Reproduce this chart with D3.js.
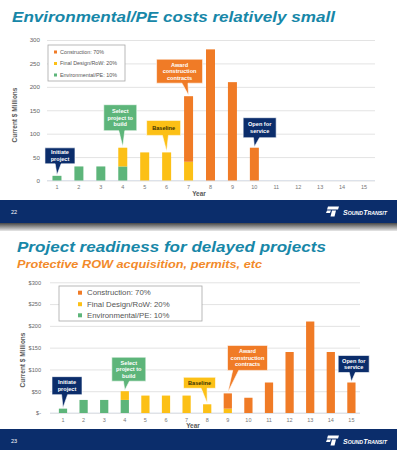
<!DOCTYPE html>
<html>
<head>
<meta charset="utf-8">
<script src="https://cdn.jsdelivr.net/npm/d3@7"></script>
<style>
  body { margin: 0; background: #fff; }
  svg { display: block; font-family: "Liberation Sans", Arial, sans-serif; }
</style>
</head>
<body>
<svg id="page" width="397" height="450"></svg>
<script>
// ---- data ----
var years = [1, 2, 3, 4, 5, 6, 7, 8, 9, 10, 11, 12, 13, 14, 15];
var seriesKeys = ['env', 'design', 'construction'];
var legendLabels = ['Construction: 70%', 'Final Design/RoW: 20%', 'Environmental/PE: 10%'];

// slide 22
var env1 = [10, 30, 30, 30, 0, 0, 0, 0, 0, 0, 0, 0, 0, 0, 0];
var design1 = [0, 0, 0, 40, 60, 60, 40, 0, 0, 0, 0, 0, 0, 0, 0];
var construction1 = [0, 0, 0, 0, 0, 0, 140, 280, 210, 70, 0, 0, 0, 0, 0];
var yTicks1 = [0, 50, 100, 150, 200, 250, 300];
var yTickLabels1 = ['0', '50', '100', '150', '200', '250', '300'];
var calloutYears1 = [1, 4, 6, 7, 10];

// slide 23
var env2 = [10, 30, 30, 30, 0, 0, 0, 0, 0, 0, 0, 0, 0, 0, 0];
var design2 = [0, 0, 0, 20, 40, 40, 40, 20, 10, 0, 0, 0, 0, 0, 0];
var construction2 = [0, 0, 0, 0, 0, 0, 0, 0, 35, 35, 70, 140, 210, 140, 70];
var yTicks2 = [0, 50, 100, 150, 200, 250, 300];
var yTickLabels2 = ['$-', '$50', '$100', '$150', '$200', '$250', '$300'];
var calloutYears2 = [1, 4, 8, 9, 15];

var calloutTexts = [['Initiate', 'project'], ['Select', 'project to', 'build'], ['Baseline'],
                    ['Award', 'construction', 'contracts'], ['Open for', 'service']];
var calloutKinds = ['navy', 'green', 'yellow', 'orange', 'navy'];

var colours = {
  env: '#5db57a', design: '#fcc016', construction: '#f07b26',
  navy: '#0b2d6b', green: '#5db57a', yellow: '#fcc016', orange: '#f07b26'
};
var legendColours = [colours.construction, colours.design, colours.env];

var svg = d3.select('#page');

// ---- page furniture ----
var defs = svg.append('defs');
var grad = defs.append('linearGradient').attr('id', 'shadow')
  .attr('x1', 0).attr('x2', 0).attr('y1', 0).attr('y2', 1);
grad.append('stop').attr('offset', '0%').attr('stop-color', '#333');
grad.append('stop').attr('offset', '100%').attr('stop-color', '#e8e8e8');

svg.append('rect').attr('x', 0).attr('y', 222).attr('width', 397).attr('height', 9).attr('fill', 'url(#shadow)');

function footer(y, h, num) {
  svg.append('rect').attr('x', 0).attr('y', y).attr('width', 397).attr('height', h).attr('fill', colours.navy);
  var cy = y + 11.5;
  svg.append('text').attr('x', 11).attr('y', cy + 2).attr('fill', '#fff')
    .style('font-size', '5.5px').text(num);
  // logo emblem
  var g = svg.append('g').attr('fill', '#fff');
  g.append('path').attr('d', 'M328,' + (cy - 5) + 'h11l-1,3h-11z');
  g.append('path').attr('d', 'M332,' + (cy - 1) + 'h4l-1.5,6h-4z');
  g.append('path').attr('d', 'M327,' + (cy - 1) + 'h4l-1,2.5h-4z');
  svg.append('text').attr('x', 343).attr('y', cy + 3).attr('fill', '#fff')
    .style('font-size', '8px').style('font-style', 'italic').style('font-weight', 'bold')
    .style('font-variant', 'small-caps').attr('textLength', 44).attr('lengthAdjust', 'spacingAndGlyphs')
    .text('SoundTransit');
}
footer(200, 23, '22');
footer(429, 21, '23');

// titles
svg.append('text').attr('x', 12).attr('y', 22).attr('fill', '#1787a8')
  .style('font-size', '15.5px').style('font-weight', 'bold').style('font-style', 'italic')
  .attr('textLength', 323).attr('lengthAdjust', 'spacingAndGlyphs')
  .text('Environmental/PE costs relatively small');
svg.append('text').attr('x', 17).attr('y', 252).attr('fill', '#1787a8')
  .style('font-size', '15px').style('font-weight', 'bold').style('font-style', 'italic')
  .attr('textLength', 309).attr('lengthAdjust', 'spacingAndGlyphs')
  .text('Project readiness for delayed projects');
svg.append('text').attr('x', 17).attr('y', 267.5).attr('fill', '#f28a2a')
  .style('font-size', '11.5px').style('font-weight', 'bold').style('font-style', 'italic')
  .attr('textLength', 245).attr('lengthAdjust', 'spacingAndGlyphs')
  .text('Protective ROW acquisition, permits, etc');

// ---- chart drawing ----
function drawChart(cfg) {
  var rows = years.map(function (yr, i) {
    return { year: yr, env: cfg.env[i], design: cfg.design[i], construction: cfg.construction[i] };
  });
  var x = d3.scaleBand().domain(years).range(cfg.xRange).paddingInner(cfg.pad).paddingOuter(cfg.pad / 2);
  var y = d3.scaleLinear().domain([0, 300]).range(cfg.yRange);
  var g = svg.append('g');

  // grid + y labels
  var yAxis = d3.axisLeft(y).tickValues(cfg.yTicks)
    .tickFormat(function (d, i) { return cfg.yTickLabels[i]; })
    .tickSize(-(cfg.gridX[1] - cfg.gridX[0])).tickPadding(cfg.gridX[0] - cfg.labelX);
  var ya = g.append('g').attr('transform', 'translate(' + cfg.gridX[0] + ',0)').call(yAxis);
  ya.select('.domain').remove();
  ya.selectAll('.tick line').attr('stroke', '#e3e3e3').attr('stroke-width', 1);
  ya.selectAll('.tick text').attr('fill', '#666').style('font-size', cfg.yFont + 'px');

  // x labels
  var xa = g.append('g').attr('transform', 'translate(0,' + y(0) + ')')
    .call(d3.axisBottom(x).tickSize(0).tickPadding(cfg.xPad));
  xa.select('.domain').attr('stroke', '#dde2ea').attr('d', 'M' + cfg.gridX[0] + ',0H' + cfg.gridX[1]);
  xa.selectAll('.tick text').attr('fill', '#777').style('font-size', '5.5px');

  // bars
  var stacked = d3.stack().keys(seriesKeys)(rows);
  g.selectAll('g.series').data(stacked).join('g').attr('class', 'series')
    .attr('fill', function (d) { return colours[d.key]; })
    .selectAll('rect').data(function (d) { return d.filter(function (p) { return p[1] > p[0]; }); })
    .join('rect')
    .attr('x', function (d) { return x(d.data.year); })
    .attr('width', x.bandwidth())
    .attr('y', function (d) { return y(d[1]); })
    .attr('height', function (d) { return y(d[0]) - y(d[1]); });

  // axis titles
  g.append('text').attr('x', cfg.yearLabel[0]).attr('y', cfg.yearLabel[1]).attr('text-anchor', 'middle')
    .attr('fill', '#595959').style('font-size', '6.5px').style('font-weight', 'bold').text('Year');
  g.append('text').attr('transform', 'translate(' + cfg.yTitle[0] + ',' + cfg.yTitle[1] + ') rotate(-90)')
    .attr('text-anchor', 'middle').attr('fill', '#595959').style('font-size', '6.5px').style('font-weight', 'bold')
    .text('Current $ Millions');

  // legend
  var L = cfg.legend;
  g.append('rect').attr('x', L.x).attr('y', L.y).attr('width', L.w).attr('height', L.h)
    .attr('fill', '#fff').attr('stroke', '#a8a8a8').attr('stroke-width', 0.8);
  legendLabels.forEach(function (lab, i) {
    var cy = L.rows[i];
    g.append('rect').attr('x', L.sx).attr('y', cy - L.s / 2).attr('width', L.s).attr('height', L.s)
      .attr('fill', legendColours[i]);
    g.append('text').attr('x', L.tx).attr('y', cy).attr('dy', '0.35em').attr('fill', '#555')
      .style('font-size', L.font + 'px').text(lab);
  });

  // callouts
  cfg.calloutYears.forEach(function (yr, i) {
    var c = cfg.callouts[i];
    var row = rows[years.indexOf(yr)];
    var tipX = x(yr) + x.bandwidth() / 2;
    var tipY = y(row.env + row.design + row.construction) - 1;
    var bottom = tipY - c.gap;
    var cx = tipX + c.dx;
    var left = cx - c.w / 2, top = bottom - c.h;
    var baseX = Math.max(left + 2, Math.min(left + c.w - 8, tipX + c.dx * 0.4 - 3));
    var fill = colours[calloutKinds[i]];
    g.append('path')
      .attr('d', 'M' + left + ',' + top + 'h' + c.w + 'v' + c.h + 'H' + (baseX + 6) +
        'L' + tipX + ',' + tipY + 'L' + baseX + ',' + bottom + 'H' + left + 'Z')
      .attr('fill', fill).attr('stroke', '#fff').attr('stroke-width', 0.6);
    var lines = calloutTexts[i];
    var lh = 6.6;
    var t = g.append('text').attr('text-anchor', 'middle')
      .attr('fill', calloutKinds[i] === 'yellow' ? '#3a3000' : '#fff')
      .style('font-size', '5.6px').style('font-weight', 'bold');
    lines.forEach(function (ln, j) {
      t.append('tspan').attr('x', cx)
        .attr('y', top + c.h / 2 + (j - (lines.length - 1) / 2) * lh)
        .attr('dy', '0.35em').text(ln);
    });
  });
}

drawChart({
  env: env1, design: design1, construction: construction1,
  yTicks: yTicks1, yTickLabels: yTickLabels1, yFont: 6.2,
  xRange: [46, 375], pad: 0.59, yRange: [180.5, 40],
  gridX: [47, 375], labelX: 40, xPad: 4.6,
  yearLabel: [199, 196], yTitle: [17, 115],
  legend: { x: 48, y: 45, w: 77, h: 36, rows: [52, 63.5, 75], sx: 54, s: 3, tx: 60, font: 5.4 },
  calloutYears: calloutYears1,
  callouts: [
    { w: 30, h: 16, dx: 3, gap: 11 },
    { w: 33, h: 26, dx: -2.5, gap: 16 },
    { w: 34, h: 15, dx: -3, gap: 16 },
    { w: 46, h: 24, dx: -9, gap: 12 },
    { w: 33, h: 20, dx: 5.3, gap: 9 }
  ]
});

drawChart({
  env: env2, design: design2, construction: construction2,
  yTicks: yTicks2, yTickLabels: yTickLabels2, yFont: 5.6,
  xRange: [52.7, 361.7], pad: 0.6, yRange: [413, 282.3],
  gridX: [50, 360], labelX: 41, xPad: 5,
  yearLabel: [193, 427.5], yTitle: [25, 360],
  legend: { x: 59, y: 286, w: 143, h: 35, rows: [292.7, 304.2, 315.3], sx: 78, s: 4, tx: 87, font: 7.8 },
  calloutYears: calloutYears2,
  callouts: [
    { w: 30, h: 18, dx: 4, gap: 13 },
    { w: 34, h: 24, dx: 4, gap: 9 },
    { w: 32, h: 11, dx: -7.7, gap: 15 },
    { w: 40, h: 25, dx: 19.7, gap: 22 },
    { w: 31, h: 17, dx: 2.3, gap: 9 }
  ]
});
</script>
</body>
</html>
